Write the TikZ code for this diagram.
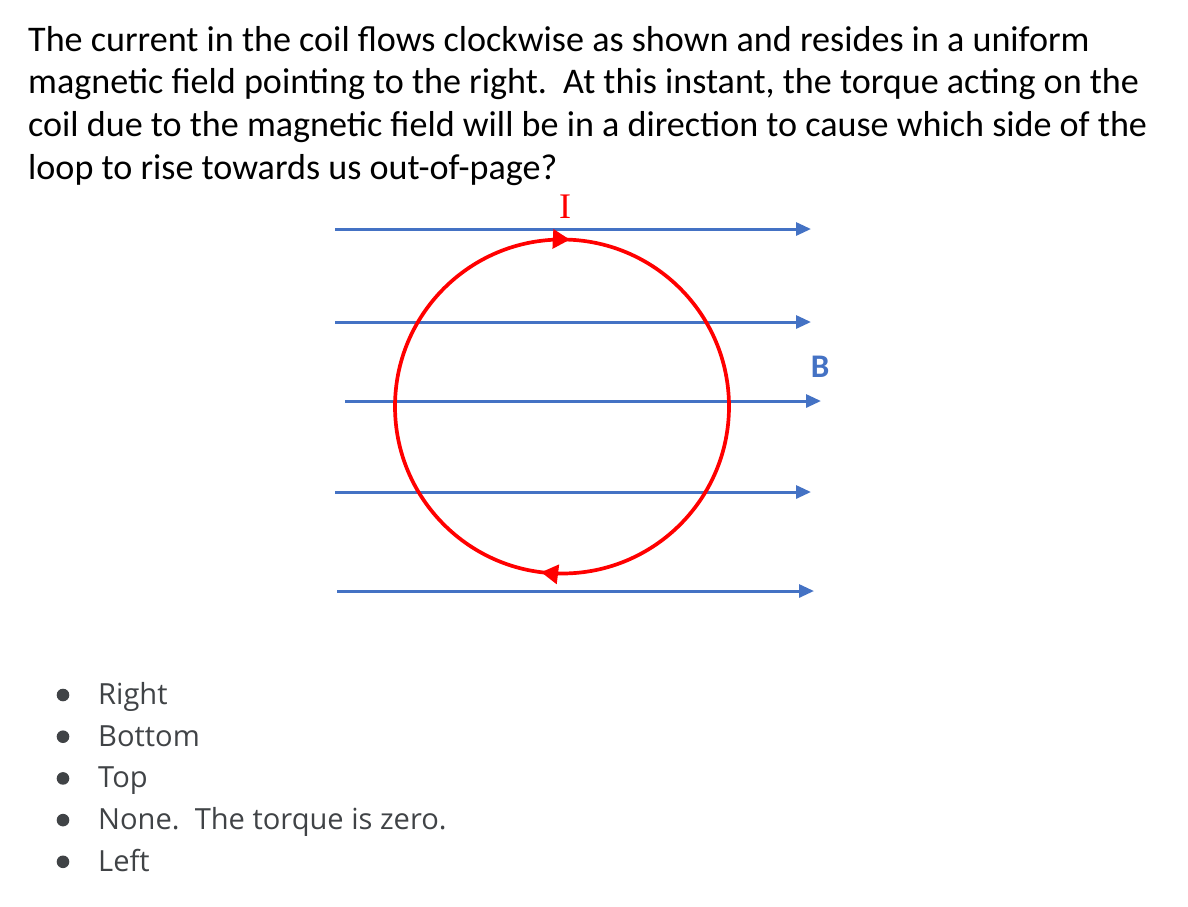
\documentclass[tikz,border=0pt]{standalone}
\usepackage{fontspec}
\setmainfont{Carlito}
\newfontfamily\serifI{Liberation Serif}
\newfontfamily\optfont{Open Sans}
\usetikzlibrary{arrows.meta,decorations.markings}
\definecolor{fieldblue}{HTML}{4472C4}
\definecolor{listgray}{HTML}{404346}
\definecolor{coilred}{HTML}{FF0000}
\tikzset{
  qline/.style={anchor=base west, inner sep=0pt, font=\fontsize{36.1}{42}\selectfont, text=black},
  opt/.style={anchor=base west, inner sep=0pt, font=\optfont\fontsize{29.1}{35}\selectfont, text=listgray},
  bul/.style={circle, fill=listgray, inner sep=0pt, minimum size=12.6pt},
  field/.style={draw=fieldblue, line width=3pt, -{Triangle[length=15pt,width=13pt]}},
  coil/.style={draw=coilred, line width=3.7pt},
}
\begin{document}
\begin{tikzpicture}[x=1pt,y=-1pt]
\useasboundingbox (0,0) rectangle (1188,906);
% question
\node[qline] (q1) at (28,51) {The current in the coil flows clockwise as shown and resides in a uniform};
\node[qline] (q2) at (28,93.7) {magnetic field pointing to the right.\ \ At this instant, the torque acting on the};
\node[qline] (q3) at (28,136.4) {coil due to the magnetic field will be in a direction to cause which side of the};
\node[qline] (q4) at (28,179.1) {loop to rise towards us out-of-page?};
% field lines
\coordinate (a1) at (335,229); \coordinate (b1) at (811,229);
\coordinate (a2) at (335,322); \coordinate (b2) at (811,322);
\coordinate (a3) at (345,401); \coordinate (b3) at (821,401);
\coordinate (a4) at (335,492); \coordinate (b4) at (811,492);
\coordinate (a5) at (337,591); \coordinate (b5) at (814,591);
\foreach \i in {1,...,5} \draw[field] (a\i) -- (b\i);
% coil
\coordinate (c) at (562,406.5);
\draw[coil, postaction={decorate}, decoration={markings,
   mark=at position 0.27 with {\arrow{Triangle[length=17pt,width=19pt]}},
   mark=at position 0.7575 with {\arrow{Triangle[length=17pt,width=19pt]}}}]
   (729,406.5) arc[start angle=0, end angle=360, radius=167];
% labels
\node[anchor=base, inner sep=0pt, text=coilred, font=\serifI\fontsize{36}{40}\selectfont] (I) at (565,218) {I};
\node[anchor=base, inner sep=0pt, text=fieldblue, font=\bfseries\fontsize{33}{38}\selectfont] (B) at (820,377) {B};
% options
\node[opt] (o1) at (98,704.3) {Right};
\node[opt] (o2) at (98,746) {Bottom};
\node[opt] (o3) at (98,787.7) {Top};
\node[opt] (o4) at (98,829.4) {None.\ \ The torque is zero.};
\node[opt] (o5) at (98,871) {Left};
\node[bul] (d1) at (63,695) {};
\node[bul] (d2) at (63,736.7) {};
\node[bul] (d3) at (63,778.4) {};
\node[bul] (d4) at (63,820.1) {};
\node[bul] (d5) at (63,861.8) {};
\end{tikzpicture}
\end{document}
